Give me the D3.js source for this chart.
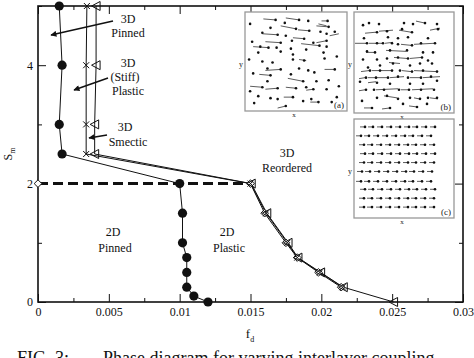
<!DOCTYPE html>
<html><head><meta charset="utf-8">
<script src="https://cdn.jsdelivr.net/npm/d3@7"></script>
<style>body{margin:0;background:#fff}svg{display:block}</style>
</head><body>
<svg id="c" width="474" height="358"></svg>
<script>
// ---------- data ----------
const xMajor = [0, 0.005, 0.01, 0.015, 0.02, 0.025, 0.03];
const xTickLabels = ["0", "0.005", "0.01", "0.015", "0.02", "0.025", "0.03"];
const xMinor = [0.0025, 0.0075, 0.0125, 0.0175, 0.0225, 0.0275];
const yMajor = [0, 2, 4];
const yTickLabels = ["0", "2", "4"];
const yMinor = [1, 3, 5];

// filled circles
const circleFd = [0.0120, 0.0110, 0.0105, 0.0105, 0.0105, 0.0102, 0.0102, 0.0100, 0.0017, 0.0015, 0.0017, 0.0015];
const circleSm = [0, 0.1, 0.25, 0.5, 0.75, 1.0, 1.5, 2.0, 2.5, 3.0, 4.0, 5.0];
// crosses
const crossFd = [0.00345, 0.0034, 0.0034, 0.0034, 0.0150, 0.0161, 0.0176, 0.0183, 0.0199, 0.0215];
const crossSm = [5.0, 4.0, 3.0, 2.5, 2.0, 1.5, 1.0, 0.75, 0.5, 0.25];
// left triangles
const triFd = [0.0041, 0.0041, 0.0040, 0.0040, 0.01505, 0.01615, 0.01765, 0.01835, 0.01995, 0.02155, 0.0251];
const triSm = [5.0, 4.0, 3.0, 2.5, 2.0, 1.5, 1.0, 0.75, 0.5, 0.25, 0.0];
// diamonds
const diaFd = [0, 0.0150, 0.0160, 0.0175, 0.0183, 0.0198, 0.0214];
const diaSm = [2.0, 2.0, 1.5, 1.0, 0.75, 0.5, 0.25];

// region labels
const regionLines = [["3D", "Pinned"], ["3D", "(Stiff)", "Plastic"], ["3D", "Smectic"], ["3D", "Reordered"], ["2D", "Pinned"], ["2D", "Plastic"]];

// inset (a) particles (box coordinates 0..100)
const insetADots = [[30,8],[53,8],[62,9],[81,9],[39,11],[25,16],[50,17],[63,19],[74,20],[82,15],[17,21],[32,23],[40,24],[80,22],
 [35,31],[46,29],[58,27],[67,31],[80,29],[73,34],[15,35],[23,36],[31,36],[45,37],[60,38],[80,35],[13,41],[35,40],[47,43],[77,41],
 [17,50],[27,51],[47,48],[58,49],[78,47],[22,57],[35,58],[53,57],[62,59],[68,61],[25,64],[45,63],[57,70],[70,70],[82,69],[22,70],
 [17,76],[32,77],[50,77],[60,76],[67,78],[80,78],[25,87],[32,88],[47,86],[57,90],[65,88],[72,91],[85,91],[40,95],[13,85],
 [5,12],[7,30],[4,48],[8,62],[5,80],[9,92],[88,20],[90,45],[88,58],[92,75],[90,86]];
const insetATrails = [[18,7,30,8],[40,6,53,8],[75,9,81,9],[35,14,50,17],[52,18,63,19],[70,14,82,15],[17,22,32,23],[20,30,35,31],
 [47,26,58,27],[70,31,80,29],[55,32,73,34],[8,35,23,36],[53,48,60,49],[20,59,35,58],[14,63,25,64],[42,67,57,70],[5,75,17,76],
 [20,78,32,77],[40,76,50,77],[60,79,67,78],[38,86,47,86],[64,91,72,91],[32,97,40,95],[83,24,92,22],[72,12,80,14],[78,58,88,58]];

// inset (b) particles
const insetBDots = [[9,13],[15,11],[25,12],[50,11],[59,12],[71,11],[83,12],[23,20],[33,19],[48,17],[58,20],[84,17],
 [10,26],[34,25],[44,26],[54,25],[74,26],[13,31],[23,31],[29,31],[38,31],[44,32],[58,33],[67,31],[81,31],
 [13,39],[21,40],[36,38],[53,38],[69,40],[79,40],[9,47],[23,47],[33,46],[44,45],[54,46],[68,45],[74,48],
 [14,55],[26,53],[39,51],[56,53],[66,51],[78,51],[16,58],[26,58],[38,58],[46,58],[58,59],[69,58],[83,59],
 [12,65],[22,65],[34,65],[44,64],[54,65],[67,65],[77,64],[6,69],[23,70],[36,71],[56,71],[69,71],[83,68],
 [12,77],[20,77],[30,77],[45,77],[55,77],[67,77],[80,77],[8,88],[23,85],[33,83],[44,86],[56,85],[66,86],[74,85],[83,85],
 [18,95],[36,95],[49,91],[63,94],[73,91]];
const insetBTrails = [[62,9,71,11],[11,21,22,20],[25,19,39,18],[45,18,57,20],[76,18,86,16],[1,31,12,31],[15,31,28,31],[31,31,39,30],
 [47,32,57,33],[60,32,80,31],[32,38,52,39],[40,45,53,46],[56,46,67,45],[35,50,46,51],[7,59,15,58],[18,58,37,58],[48,58,57,59],
 [60,58,82,59],[5,66,11,65],[14,65,33,65],[36,65,50,64],[56,65,66,65],[69,65,86,64],[5,78,11,77],[22,77,44,76],[47,77,54,77],
 [58,77,79,76],[30,83,43,85],[10,95,17,95],[28,96,36,95],[55,93,63,94],[60,85,65,86],[76,85,84,86],[14,70,22,69],[12,40,20,40]];

// inset (c) lattice rows / columns
const insetCRows = [8, 17, 26, 35, 44, 53, 63, 71, 80, 89];
const insetCShift = [2, -2, 1, 2, 1, -1, -2, 2, 1, 1];
const insetCCols = [9, 17, 26, 35, 44, 53, 61, 70, 79];

// ---------- drawing ----------
const svg = d3.select("#c");
const W = 474, H = 358;
svg.append("rect").attr("width", W).attr("height", H).attr("fill", "#fff");
const x = d3.scaleLinear().domain([0, 0.03]).range([38, 463]);
const y = d3.scaleLinear().domain([0, 5]).range([302, 6]);
const FONT = "'Liberation Serif', 'DejaVu Serif', serif";

function styleAxis(g) {
  g.select(".domain").remove();
  g.selectAll(".tick line").attr("stroke", "#111").attr("stroke-width", 1);
  g.selectAll("text").attr("font-family", FONT).attr("font-size", 12).attr("fill", "#111");
}
// bottom
svg.append("g").attr("transform", `translate(0,${y(0)})`)
  .call(d3.axisBottom(x).tickValues(xMajor).tickSize(-8).tickPadding(5).tickFormat((d, i) => xTickLabels[i])).call(styleAxis);
svg.append("g").attr("transform", `translate(0,${y(0)})`)
  .call(d3.axisBottom(x).tickValues(xMinor).tickSize(-4).tickFormat("")).call(styleAxis);
// top
svg.append("g").attr("transform", `translate(0,${y(5)})`)
  .call(d3.axisTop(x).tickValues(xMajor).tickSize(-8).tickFormat("")).call(styleAxis);
svg.append("g").attr("transform", `translate(0,${y(5)})`)
  .call(d3.axisTop(x).tickValues(xMinor).tickSize(-4).tickFormat("")).call(styleAxis);
// left
svg.append("g").attr("transform", `translate(${x(0)},0)`)
  .call(d3.axisLeft(y).tickValues(yMajor).tickSize(-8).tickPadding(5).tickFormat((d, i) => yTickLabels[i])).call(styleAxis);
svg.append("g").attr("transform", `translate(${x(0)},0)`)
  .call(d3.axisLeft(y).tickValues(yMinor).tickSize(-4).tickFormat("")).call(styleAxis);
// right
svg.append("g").attr("transform", `translate(${x(0.03)},0)`)
  .call(d3.axisRight(y).tickValues(yMajor).tickSize(-8).tickFormat("")).call(styleAxis);
svg.append("g").attr("transform", `translate(${x(0.03)},0)`)
  .call(d3.axisRight(y).tickValues(yMinor).tickSize(-4).tickFormat("")).call(styleAxis);

// frame
svg.append("rect").attr("x", x(0)).attr("y", y(5)).attr("width", x(0.03) - x(0)).attr("height", y(0) - y(5))
  .attr("fill", "none").attr("stroke", "#111").attr("stroke-width", 1.6);

// ---------- insets ----------
function inset(box, dots, trails, label, ylab) {
  const sx = d3.scaleLinear().domain([0, 100]).range([box.x0, box.x1]);
  const sy = d3.scaleLinear().domain([0, 100]).range([box.y0, box.y1]);
  const g = svg.append("g");
  g.append("rect").attr("x", box.x0).attr("y", box.y0).attr("width", box.x1 - box.x0).attr("height", box.y1 - box.y0)
    .attr("fill", "#fff").attr("stroke", "#999").attr("stroke-width", 1.3);
  g.selectAll("line.t").data(trails).enter().append("line")
    .attr("x1", d => sx(d[0])).attr("y1", d => sy(d[1])).attr("x2", d => sx(d[2])).attr("y2", d => sy(d[3]))
    .attr("stroke", "#333").attr("stroke-width", 0.8);
  g.selectAll("circle").data(dots).enter().append("circle")
    .attr("cx", d => sx(d[0])).attr("cy", d => sy(d[1])).attr("r", 1.3).attr("fill", "#111");
  g.append("text").attr("x", box.x1 - 3).attr("y", box.y1 - 3).attr("text-anchor", "end")
    .attr("font-family", FONT).attr("font-size", 9).attr("fill", "#222").text(label);
  g.append("text").attr("x", (box.x0 + box.x1) / 2 - 2).attr("y", box.y1 + 6).attr("text-anchor", "middle")
    .attr("font-family", FONT).attr("font-size", 7).attr("fill", "#222").text("x");
  g.append("text").attr("x", box.x0 - 4).attr("y", ylab).attr("text-anchor", "middle")
    .attr("font-family", FONT).attr("font-size", 8).attr("fill", "#222").text("y");
}
inset({x0: 245, x1: 347, y0: 12, y1: 111}, insetADots, insetATrails, "(a)", 67);
inset({x0: 354, x1: 454, y0: 12, y1: 113}, insetBDots, insetBTrails, "(b)", 67);
// inset c from lattice arrays
const cDots = [], cTrails = [];
insetCRows.forEach((r, i) => insetCCols.forEach(c => {
  cDots.push([c + insetCShift[i], r]);
  cTrails.push([c + insetCShift[i] - 5, r, c + insetCShift[i], r]);
}));
inset({x0: 354, x1: 454, y0: 119, y1: 218}, cDots, cTrails, "(c)", 174);

// ---------- series ----------
const line = d3.line().x(d => x(d[0])).y(d => y(d[1]));
const zip = (a, b) => a.map((v, i) => [v, b[i]]);
const circlePts = zip(circleFd, circleSm);
const crossPts = zip(crossFd, crossSm);
const triPts = zip(triFd, triSm);
const diaPts = zip(diaFd, diaSm);

// dashed thick segment (first diamond segment)
svg.append("path").attr("d", line(diaPts.slice(0, 2))).attr("fill", "none")
  .attr("stroke", "#111").attr("stroke-width", 3).attr("stroke-dasharray", "10,5");
svg.append("path").attr("d", line(diaPts.slice(1))).attr("fill", "none").attr("stroke", "#111").attr("stroke-width", 1);
[circlePts, crossPts, triPts].forEach(p =>
  svg.append("path").attr("d", line(p)).attr("fill", "none").attr("stroke", "#111").attr("stroke-width", 1));

// markers
svg.selectAll("path.dia").data(diaPts).enter().append("path")
  .attr("transform", d => `translate(${x(d[0])},${y(d[1])})`)
  .attr("d", "M0,-3.8L3.8,0L0,3.8L-3.8,0Z").attr("fill", "#fff").attr("stroke", "#111").attr("stroke-width", 1);
svg.selectAll("path.tri").data(triPts).enter().append("path")
  .attr("transform", d => `translate(${x(d[0])},${y(d[1])})`)
  .attr("d", "M-4.5,0L4,-4.5L4,4.5Z").attr("fill", "none").attr("stroke", "#111").attr("stroke-width", 1);
svg.selectAll("path.crs").data(crossPts).enter().append("path")
  .attr("transform", d => `translate(${x(d[0])},${y(d[1])})`)
  .attr("d", "M-3,-3L3,3M-3,3L3,-3").attr("fill", "none").attr("stroke", "#111").attr("stroke-width", 1);
svg.selectAll("circle.dot").data(circlePts).enter().append("circle")
  .attr("cx", d => x(d[0])).attr("cy", d => y(d[1])).attr("r", 4.6).attr("fill", "#111");

// ---------- region labels ----------
const regionPos = [[[128, 23], [128, 37]], [[128, 67], [125, 81], [128, 95]], [[125, 131], [128, 146]],
  [[287, 157], [287, 172]], [[113, 236], [115, 252]], [[227, 236], [229, 252]]];
regionLines.forEach((lines, i) => lines.forEach((t, j) =>
  svg.append("text").attr("x", regionPos[i][j][0]).attr("y", regionPos[i][j][1]).attr("text-anchor", "middle")
    .attr("font-family", FONT).attr("font-size", 12).attr("fill", "#111").text(t)));

// arrows
svg.append("defs").append("marker").attr("id", "ah").attr("viewBox", "0 0 10 10").attr("refX", 9).attr("refY", 5)
  .attr("markerWidth", 7).attr("markerHeight", 6).attr("orient", "auto").attr("markerUnits", "userSpaceOnUse")
  .append("path").attr("d", "M0,0L10,5L0,10Z").attr("fill", "#111");
const arrows = [[113, 21, 51, 35], [108, 78, 74, 90], [107, 135, 89, 138]];
arrows.forEach(a => svg.append("line").attr("x1", a[0]).attr("y1", a[1]).attr("x2", a[2]).attr("y2", a[3])
  .attr("stroke", "#111").attr("stroke-width", 1.5).attr("marker-end", "url(#ah)"));

// axis titles
const yt = svg.append("text").attr("transform", "translate(12,154) rotate(-90)").attr("text-anchor", "middle")
  .attr("font-family", FONT).attr("font-size", 12).attr("fill", "#111");
yt.append("tspan").text("S");
yt.append("tspan").attr("font-size", 8).attr("dy", 3).text("m");
const xt = svg.append("text").attr("x", 250).attr("y", 338).attr("text-anchor", "middle")
  .attr("font-family", FONT).attr("font-size", 13).attr("fill", "#111");
xt.append("tspan").text("f");
xt.append("tspan").attr("font-size", 8).attr("dy", 4).text("d");

// caption (cut off at the bottom, as in the reference)
svg.append("text").attr("x", 17).attr("y", 364).attr("font-family", FONT).attr("font-size", 18).attr("fill", "#111").text("FIG. 3:");
svg.append("text").attr("x", 103).attr("y", 364).attr("font-family", FONT).attr("font-size", 18).attr("fill", "#111")
  .text("Phase diagram for varying interlayer coupling");
</script>
</body></html>
